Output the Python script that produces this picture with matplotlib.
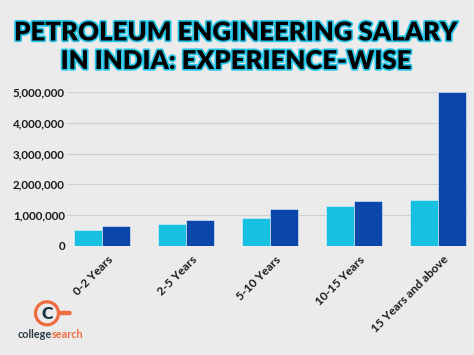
import matplotlib
matplotlib.use("Agg")
import matplotlib.pyplot as plt
import matplotlib.patheffects as pe
from matplotlib.patches import Circle, FancyBboxPatch
import numpy as np

# data
categories = ['0-2 Years', '2-5 Years', '5-10 Years', '10-15 Years', '15 Years and above']
salary_low = [500000, 700000, 900000, 1300000, 1500000]
salary_high = [650000, 850000, 1200000, 1450000, 5000000]
yticks = [0, 1000000, 2000000, 3000000, 4000000, 5000000]

light_blue = '#17bfe0'
dark_blue = '#0b47a9'
bg = '#ebebeb'

plt.rcParams['font.family'] = ['Lato', 'DejaVu Sans']

fig = plt.figure(figsize=(4.74, 3.55), dpi=100, facecolor=bg)
ax = fig.add_axes([67 / 474, 109.3 / 355, (468 - 67) / 474, 153.4 / 355])
ax.set_facecolor('none')

x = np.arange(len(categories))
w = 0.33
ax.bar(x - 0.17, salary_low, w, color=light_blue, edgecolor='#e8f6fb', linewidth=0.4, zorder=3)
ax.bar(x + 0.17, salary_high, w, color=dark_blue, edgecolor='#e8f6fb', linewidth=0.4, zorder=3)

ax.set_xlim(-0.417, 4.357)
ax.set_ylim(0, 5000000)
ax.set_yticks(yticks)
ax.set_yticklabels([f'{v:,}' for v in yticks], fontsize=8.3, fontweight='bold', color='#1a1a1a')
ax.grid(axis='y', color='#cfcfcf', linewidth=0.8, zorder=0)
ax.tick_params(axis='both', length=0)
ax.tick_params(axis='y', pad=1.5)
for s in ax.spines.values():
    s.set_visible(False)

ax.set_xticks(x)
ax.set_xticklabels(categories, rotation=45, ha='right', rotation_mode='anchor',
                   fontsize=8.6, fontweight='bold', color='#1a1a1a')
ax.tick_params(axis='x', pad=6)
offset = matplotlib.transforms.ScaledTranslation(5 / 100, 0, fig.dpi_scale_trans)
for lbl in ax.get_xticklabels():
    lbl.set_transform(lbl.get_transform() + offset)

# title
stroke = [pe.withStroke(linewidth=2.5, foreground='#27c6e8')]
fig.text(0.5, 1 - 40.5 / 355, 'PETROLEUM ENGINEERING SALARY', ha='center', va='baseline',
         fontsize=18.6, fontweight='heavy', color='black', path_effects=stroke)
fig.text(0.5, 1 - 69 / 355, 'IN INDIA: EXPERIENCE-WISE', ha='center', va='baseline',
         fontsize=18.6, fontweight='heavy', color='black', path_effects=stroke)

# logo
lax = fig.add_axes([0, 0, 1, 1])
lax.set_xlim(0, 474)
lax.set_ylim(355, 0)
lax.set_axis_off()
orange = '#ee6a3f'
lax.add_patch(FancyBboxPatch((56, 311.5), 15, 3, boxstyle='round,pad=0,rounding_size=1.5',
                             color=orange, zorder=1))
lax.add_patch(Circle((47, 313.3), 11.5, facecolor=bg, edgecolor=orange, lw=2.3, zorder=2))
lax.text(47.5, 313.8, 'C', ha='center', va='center', fontsize=12.5, fontweight='heavy', color='#1c3440', zorder=3)
lax.text(52, 335, 'college', ha='right', va='center', fontsize=7.8, fontweight='bold', color='#2a3b45')
lax.text(52, 335, 'search', ha='left', va='center', fontsize=7.8, fontweight='bold', color=orange)

fig.savefig('out.png', dpi=100, facecolor=bg)
